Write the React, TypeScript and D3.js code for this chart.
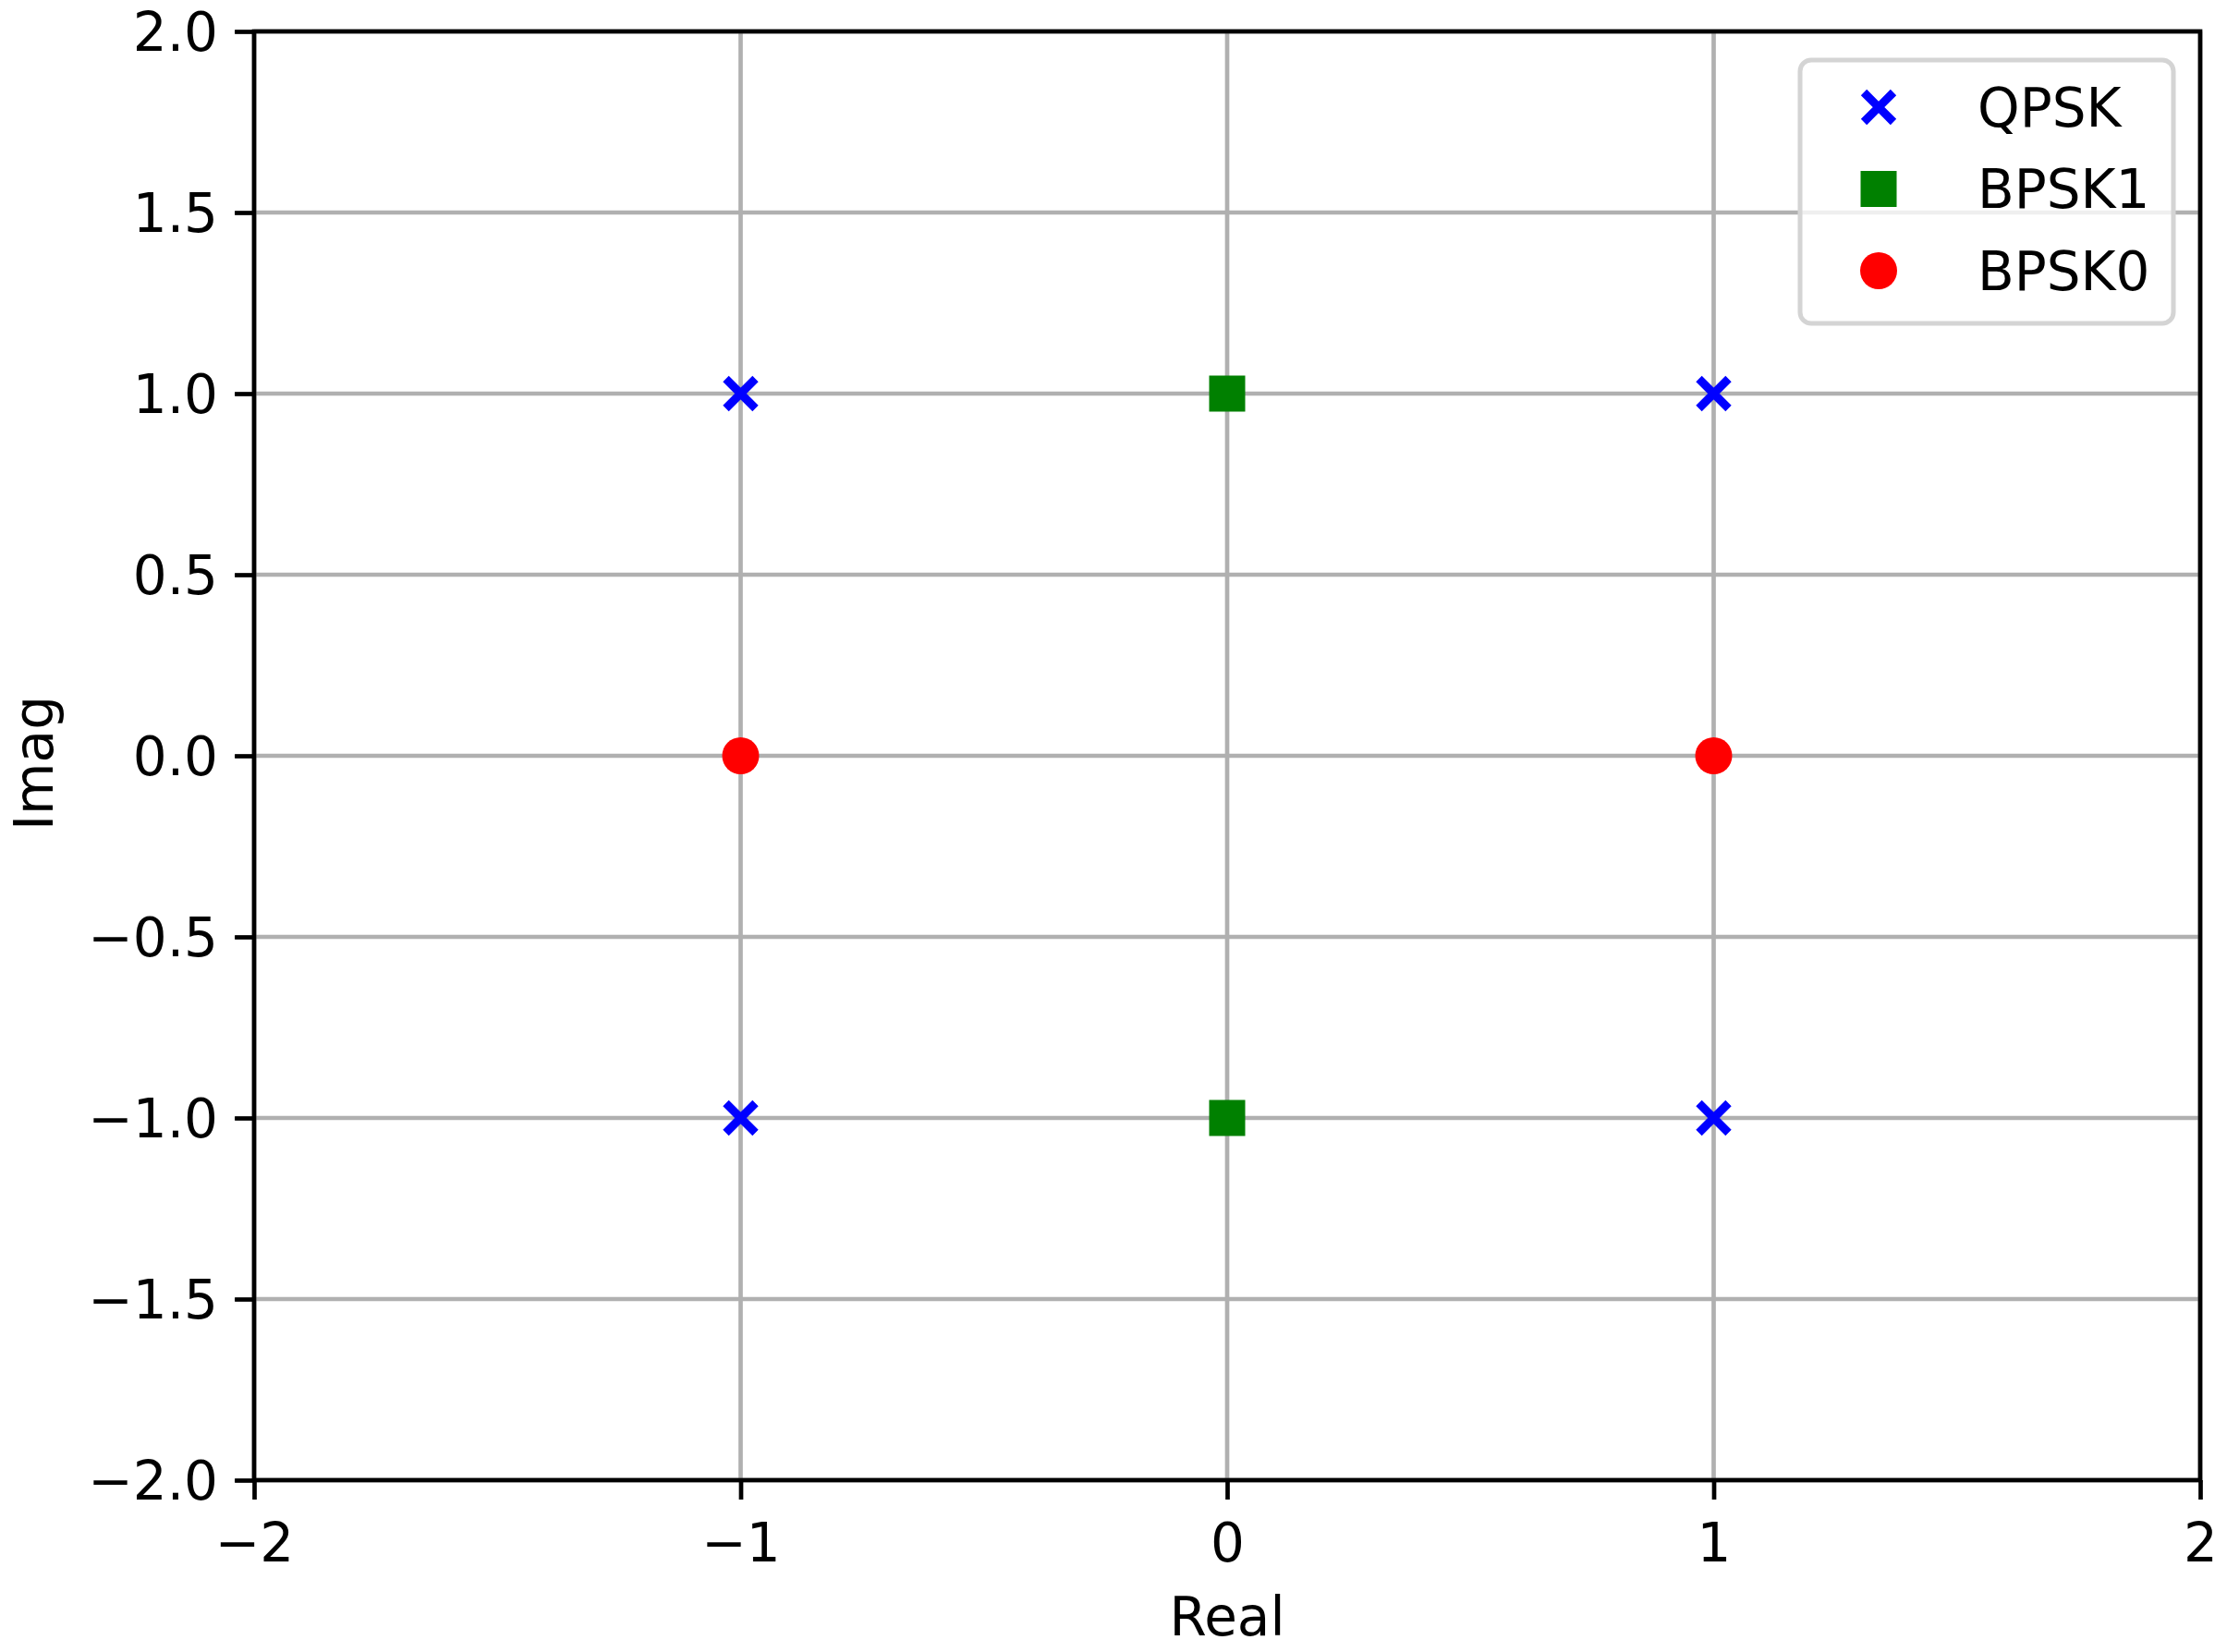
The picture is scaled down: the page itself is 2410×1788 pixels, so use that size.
import * as React from "react";
import * as d3 from "d3";

// constellation points
const qpskReal = [1, -1, -1, 1];
const qpskImag = [1, 1, -1, -1];
const bpsk1Real = [0, 0];
const bpsk1Imag = [1, -1];
const bpsk0Real = [1, -1];
const bpsk0Imag = [0, 0];

const xTicks = [-2, -1, 0, 1, 2];
const yTicks = [-2, -1.5, -1, -0.5, 0, 0.5, 1, 1.5, 2];
const legendLabels = ["QPSK", "BPSK1", "BPSK0"];

const W = 2410;
const H = 1788;
const FONT = "'DejaVu Sans', sans-serif";
const FS = 58;

export default function App() {
    const ref = React.useRef<SVGSVGElement>(null);

    React.useEffect(() => {
        const svg = d3.select(ref.current);
        svg.selectAll("*").remove();

        const left = 275, right = 2381, top = 34, bottom = 1602;
        const x = d3.scaleLinear().domain([-2, 2]).range([left, right]);
        const y = d3.scaleLinear().domain([-2, 2]).range([bottom, top]);
        const fmtY = (d: number) => d3.format(".1f")(d).replace("-", "\u2212");
        const fmtX = (d: number) => String(d).replace("-", "\u2212");

        svg.append("rect").attr("width", W).attr("height", H).attr("fill", "#fff");

        // grid
        const grid = svg.append("g").attr("stroke", "#b0b0b0").attr("stroke-width", 4.7);
        grid.selectAll("line.gx").data(xTicks).enter().append("line")
            .attr("x1", d => x(d)).attr("x2", d => x(d))
            .attr("y1", top).attr("y2", bottom);
        grid.selectAll("line.gy").data(yTicks).enter().append("line")
            .attr("y1", d => y(d)).attr("y2", d => y(d))
            .attr("x1", left).attr("x2", right);

        // axes
        const xAxis = d3.axisBottom(x).tickValues(xTicks).tickFormat(fmtX as any)
            .tickSize(21).tickPadding(14);
        const yAxis = d3.axisLeft(y).tickValues(yTicks).tickFormat(fmtY as any)
            .tickSize(21).tickPadding(18);
        const gx = svg.append("g").attr("transform", `translate(0,${bottom})`).call(xAxis);
        const gy = svg.append("g").attr("transform", `translate(${left},0)`).call(yAxis);
        [gx, gy].forEach(g => {
            g.select(".domain").remove();
            g.selectAll("line").attr("stroke", "#000").attr("stroke-width", 4.7);
            g.selectAll("text").attr("font-family", FONT).attr("font-size", FS).attr("fill", "#000");
        });
        gx.selectAll("text").attr("dy", null).attr("y", 88);
        gy.selectAll("text").attr("dy", "0.36em");

        // markers
        const drawX = (g: any, cx: number, cy: number) => {
            const r = 16;
            g.append("path")
                .attr("d", `M${cx - r},${cy - r}L${cx + r},${cy + r}M${cx - r},${cy + r}L${cx + r},${cy - r}`)
                .attr("stroke", "blue").attr("stroke-width", 9).attr("fill", "none");
        };
        const drawSq = (g: any, cx: number, cy: number) => {
            g.append("rect").attr("x", cx - 19.5).attr("y", cy - 19.5)
                .attr("width", 39).attr("height", 39).attr("fill", "green");
        };
        const drawDot = (g: any, cx: number, cy: number) => {
            g.append("circle").attr("cx", cx).attr("cy", cy).attr("r", 20).attr("fill", "red");
        };

        const marks = svg.append("g");
        qpskReal.forEach((re, i) => drawX(marks, x(re), y(qpskImag[i])));
        bpsk1Real.forEach((re, i) => drawSq(marks, x(re), y(bpsk1Imag[i])));
        bpsk0Real.forEach((re, i) => drawDot(marks, x(re), y(bpsk0Imag[i])));

        // frame
        svg.append("rect").attr("x", left).attr("y", top)
            .attr("width", right - left).attr("height", bottom - top)
            .attr("fill", "none").attr("stroke", "#000").attr("stroke-width", 4.7);

        // legend
        const lg = svg.append("g");
        lg.append("rect").attr("x", 1948).attr("y", 65).attr("width", 404).attr("height", 285)
            .attr("rx", 12).attr("fill", "rgba(255,255,255,0.8)")
            .attr("stroke", "#d4d4d4").attr("stroke-width", 5);
        const drawers = [drawX, drawSq, drawDot];
        legendLabels.forEach((lab, i) => {
            const cy = 116 + i * 88.5;
            drawers[i](lg, 2033, cy);
            lg.append("text").attr("x", 2140).attr("y", cy).attr("dy", "0.36em")
                .attr("font-family", FONT).attr("font-size", FS).attr("fill", "#000").text(lab);
        });

        // axis labels
        svg.append("text").attr("x", (left + right) / 2).attr("y", 1770)
            .attr("text-anchor", "middle").attr("font-family", FONT).attr("font-size", FS)
            .text("Real");
        svg.append("text").attr("transform", `translate(57,826) rotate(-90)`)
            .attr("text-anchor", "middle").attr("font-family", FONT).attr("font-size", FS)
            .text("Imag");
    }, []);

    return (
        <svg ref={ref} width={W} height={H}
            style={{ position: "absolute", left: 0, top: 0, display: "block" }} />
    );
}
